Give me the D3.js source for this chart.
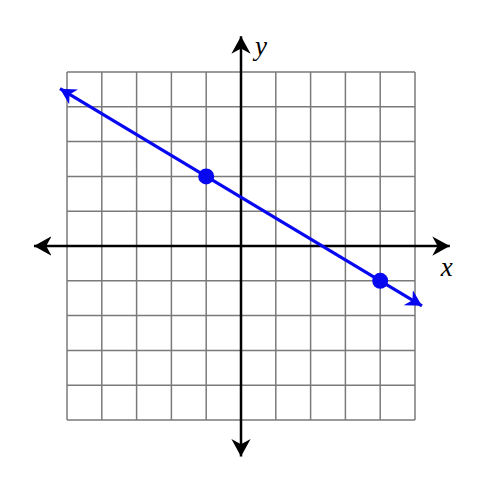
<!DOCTYPE html>
<html>
<head>
<meta charset="utf-8">
<script src="https://cdn.jsdelivr.net/npm/d3@7"></script>
<style>
  html, body { margin: 0; padding: 0; background: #fff; }
  svg { display: block; }
</style>
</head>
<body>
<svg id="chart" width="502" height="486"></svg>
<script>
// grid values
const gridTicks = d3.range(-5, 6);          // -5 .. 5
const xDomain = [-5, 5];
const yDomain = [-5, 5];

// axis extents (in units, beyond the grid for arrows)
const xAxisExtent = [-5.95, 6.0];
const yAxisExtent = [-6.05, 6.03];

// the two plotted points and the line through them
const pointX = [-1, 4];
const pointY = [2, -1];
const lineXExtent = [-5.2, 5.2];

const svg = d3.select('#chart');

const x = d3.scaleLinear().domain(xDomain).range([67, 415]);
const y = d3.scaleLinear().domain(yDomain).range([420, 72]);

// ─── markers ───
const defs = svg.append('defs');
function arrow(id, color, size) {
  defs.append('marker')
    .attr('id', id)
    .attr('viewBox', '-10 -6 12 12')
    .attr('refX', 0)
    .attr('refY', 0)
    .attr('markerUnits', 'userSpaceOnUse')
    .attr('markerWidth', size)
    .attr('markerHeight', size)
    .attr('orient', 'auto-start-reverse')
    .append('path')
    .attr('d', 'M0,0 L-10,-5.5 L-7,0 L-10,5.5 Z')
    .attr('fill', color);
}
arrow('arrBlack', '#000', 21);
arrow('arrBlue', '#0808f0', 19);

// ─── grid ───
const grid = svg.append('g')
  .attr('stroke', '#7a7a7a')
  .attr('stroke-width', 1.5);

grid.selectAll('line.v')
  .data(gridTicks)
  .join('line')
  .attr('class', 'v')
  .attr('x1', (d) => x(d)).attr('x2', (d) => x(d))
  .attr('y1', y(yDomain[1])).attr('y2', y(yDomain[0]));

grid.selectAll('line.h')
  .data(gridTicks)
  .join('line')
  .attr('class', 'h')
  .attr('y1', (d) => y(d)).attr('y2', (d) => y(d))
  .attr('x1', x(xDomain[0])).attr('x2', x(xDomain[1]));

// ─── axes ───
svg.append('line')
  .attr('x1', x(xAxisExtent[0])).attr('x2', x(xAxisExtent[1]))
  .attr('y1', y(0)).attr('y2', y(0))
  .attr('stroke', '#000').attr('stroke-width', 2.5)
  .attr('marker-start', 'url(#arrBlack)')
  .attr('marker-end', 'url(#arrBlack)');

svg.append('line')
  .attr('x1', x(0)).attr('x2', x(0))
  .attr('y1', y(yAxisExtent[0])).attr('y2', y(yAxisExtent[1]))
  .attr('stroke', '#000').attr('stroke-width', 2.5)
  .attr('marker-start', 'url(#arrBlack)')
  .attr('marker-end', 'url(#arrBlack)');

// axis labels
svg.append('text')
  .attr('x', x(xAxisExtent[1]) - 9).attr('y', y(0) + 30)
  .attr('font-family', 'Liberation Serif, DejaVu Serif, serif')
  .attr('font-style', 'italic')
  .attr('font-size', 27)
  .text('x');

svg.append('text')
  .attr('x', x(0) + 14).attr('y', y(yAxisExtent[1]) + 19)
  .attr('font-family', 'Liberation Serif, DejaVu Serif, serif')
  .attr('font-style', 'italic')
  .attr('font-size', 27)
  .text('y');

// ─── line through points ───
const slope = (pointY[1] - pointY[0]) / (pointX[1] - pointX[0]);
const fy = (v) => pointY[0] + slope * (v - pointX[0]);

svg.append('line')
  .attr('x1', x(lineXExtent[0])).attr('y1', y(fy(lineXExtent[0])))
  .attr('x2', x(lineXExtent[1])).attr('y2', y(fy(lineXExtent[1])))
  .attr('stroke', '#0808f0').attr('stroke-width', 3.2)
  .attr('marker-start', 'url(#arrBlue)')
  .attr('marker-end', 'url(#arrBlue)');

svg.selectAll('circle.pt')
  .data(pointX.map((v, i) => [v, pointY[i]]))
  .join('circle')
  .attr('class', 'pt')
  .attr('cx', (d) => x(d[0]))
  .attr('cy', (d) => y(d[1]))
  .attr('r', 8)
  .attr('fill', '#0808f0');
</script>
</body>
</html>
